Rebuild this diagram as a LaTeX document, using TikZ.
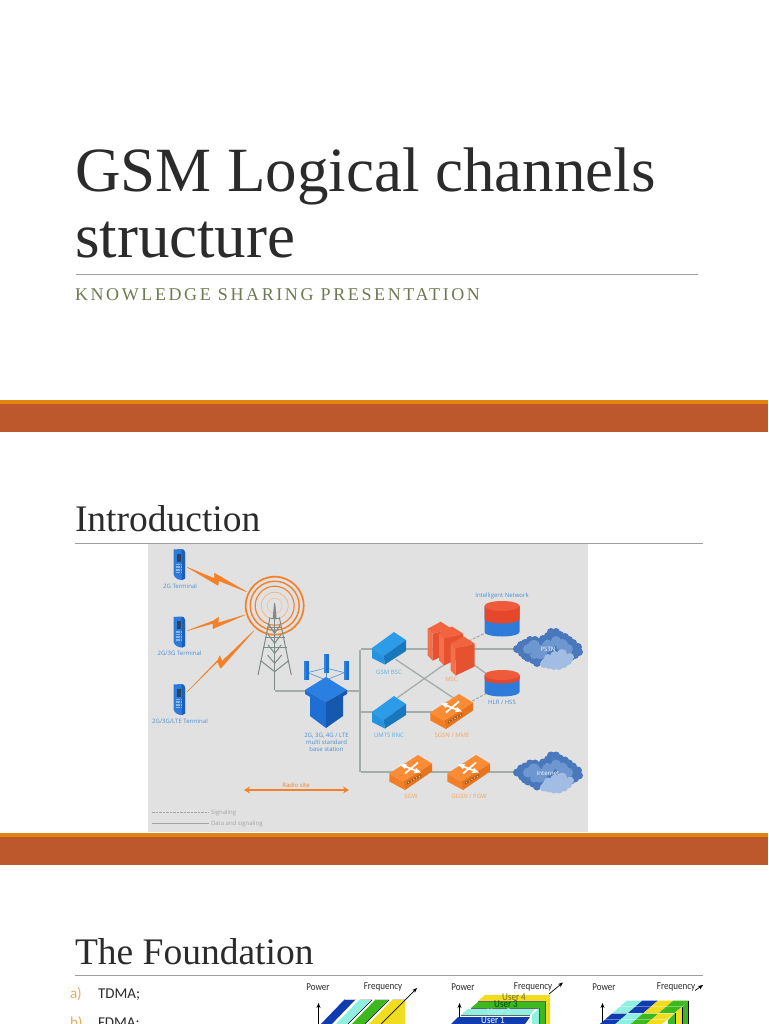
\documentclass[tikz,border=0pt]{standalone}
\usepackage{fontspec}
\setmainfont{Liberation Serif}
\newfontfamily\sansf{Open Sans}
\newfontfamily\listf{Carlito}
\newfontfamily\chartf[FakeStretch=0.86]{Carlito}
\newfontfamily\subf[LetterSpace=14.5]{Liberation Serif}
\definecolor{barO}{HTML}{E48312}
\definecolor{barB}{HTML}{BD582C}
\definecolor{panel}{HTML}{E1E1E1}
\definecolor{wire}{HTML}{A3AEAB}
\definecolor{ink}{HTML}{2B2B2B}
\definecolor{bolt}{HTML}{F58027}
\definecolor{lblB}{HTML}{4A8FD6}
\definecolor{lblC}{HTML}{55B4E8}
\definecolor{lblO}{HTML}{F4A460}
\definecolor{lblG}{HTML}{A0A6A4}
\definecolor{subc}{HTML}{6F7A52}
\definecolor{dbB}{HTML}{2F7BD9}
\definecolor{dbR}{HTML}{E4472A}
\definecolor{dbT}{HTML}{EE5A3A}
\definecolor{mscL}{HTML}{F4704A}
\definecolor{mscR}{HTML}{E65230}
\definecolor{mscT}{HTML}{F26440}
\definecolor{cloudA}{HTML}{4A78BD}
\definecolor{cloudB}{HTML}{6E96CF}
\definecolor{cloudC}{HTML}{A2BDE3}
\definecolor{bscT}{HTML}{2C9CE8}
\definecolor{bscL}{HTML}{2494E0}
\definecolor{bscR}{HTML}{1878BC}
\definecolor{rtrT}{HTML}{FB8C36}
\definecolor{rtrL}{HTML}{F47E26}
\definecolor{rtrR}{HTML}{E8751E}
\definecolor{twr}{HTML}{7E8A88}
\definecolor{cYel}{HTML}{F2DC1E}
\definecolor{cGrn}{HTML}{3DB81E}
\definecolor{cCyn}{HTML}{8FF0E0}
\definecolor{cBlu}{HTML}{0F3DB0}
\definecolor{phB}{HTML}{2B7BDB}
\definecolor{phD}{HTML}{1C5FB4}
\definecolor{phS}{HTML}{2A4468}
\definecolor{phK}{HTML}{8FB3DC}
\definecolor{bsT}{HTML}{2A80E2}
\definecolor{bsL}{HTML}{1E6FD4}
\definecolor{bsR}{HTML}{1558B0}
\definecolor{bsA}{HTML}{2F84DC}
\usetikzlibrary{arrows.meta}
\tikzset{
  t/.style={inner sep=0pt,outer sep=0pt},
  title/.style={t,anchor=base west,text=ink,font=\fontsize{63}{63}\selectfont},
  head/.style={t,anchor=base west,text=ink,font=\fontsize{37.5}{38}\selectfont},
  lab/.style={t,font=\sansf\fontsize{6}{7.2}\selectfont,align=center},
  anch/.style={t,minimum size=1pt},
  wireS/.style={draw=wire,line width=1.3pt},
  wireD/.style={draw=wire,line width=1.1pt,dash pattern=on 3pt off 1.5pt},
  axis/.style={draw=black,line width=.7pt,-{Stealth[length=5pt,width=4pt]}},
  chartlab/.style={t,text=ink,font=\chartf\fontsize{10.5}{12}\selectfont},
  userlab/.style={t,font=\chartf\fontsize{10.5}{11}\selectfont},
  pics/phone/.style={code={
    \fill[fill=phB] (-5.5,-15) -- (2,-15.5) to[out=0,in=90] (6,-12) -- (6,14) -- (3,15.5) to[out=180,in=-70] (-5.5,10) -- cycle;
    \fill[fill=phD] (2.5,-15.5) to[out=0,in=90] (6,-12) -- (6,14) -- (3,15.5) -- cycle;
    \fill[fill=phS] (-2.5,-11) rectangle (2,-3);
    \foreach \yy in {-1,1.7,4.4,7.1}\foreach \xx in {-3,-0.7,1.6}
      \fill[fill=phK] (\xx,\yy) rectangle +(1.5,1.6);
  }},
  pics/blockbox/.style={code={
    \fill[fill=bscT] (-17,0) -- (5,-16) -- (17,-8) -- (-5.5,8) -- cycle;
    \fill[fill=bscL] (-17,0) -- (-5.5,8) -- (-4,16.5) -- (-17,10) -- cycle;
    \fill[fill=bscR] (-5.5,8) -- (17,-8) -- (17,3) -- (-4,16.5) -- cycle;
  }},
  pics/router/.style={code={
    \fill[fill=rtrL] (-21.7,1) -- (-8,9) -- (-6,17.5) -- (-21.7,9) -- cycle;
    \fill[fill=rtrR] (-8,9) -- (21,-9) -- (21,-1) -- (-6,17.5) -- cycle;
    \fill[fill=rtrT] (-21.7,1) -- (7,-17.5) -- (21,-9) -- (-8,9) -- cycle;
    \draw[white,line width=1.7pt] (-8,-7) -- (7,-1) (-6,1) -- (7,-10);
    \fill[white] (-11,-8) -- (-4,-8.5) -- (-6,-3.5) -- cycle (10,0) -- (3,.5) -- (5,-4.5) -- cycle;
    \fill[fill=rtrR!75!black] (-4,9.5) -- (10,1.5) -- (10,4) -- (-4,12) -- cycle;
    \foreach \k in {0,...,4}\fill[fill=white!80!rtrT] (-2.5+\k*2.7,10-\k*1.55) circle[radius=.7pt];
  }},
  pics/dbcyl/.style={code={
    \fill[fill=dbB] (-17.5,0) -- (-17.5,#1) arc[start angle=180,end angle=360,x radius=17.5pt,y radius=4.5pt] -- (17.5,0) -- cycle;
    \fill[fill=dbR] (-17.5,0) -- (-17.5,#1-13) arc[start angle=180,end angle=360,x radius=17.5pt,y radius=4.5pt] -- (17.5,0) -- cycle;
    \fill[fill=dbT] (0,0) ellipse[x radius=17.5pt,y radius=5pt];
  }},
  pics/msctower/.style={code={
    \fill[fill=mscL] (0,7) -- (5,12) -- (5,39) -- (0,34) -- cycle;
    \fill[fill=mscR] (5,12) -- (24,7) -- (24,30) -- (5,39) -- cycle;
    \fill[fill=mscT] (0,7) -- (13,0) -- (24,7) -- (5,12) -- cycle;
  }},
  pics/cloudy/.style={code={
    \foreach \a/\b/\r in {-31/0/4,-27/-4/4,-23/-6/4,-18/-9/4,-13/-9/4,-9/-7/4,-5/-10/4,0/-13/4,3/-17/4,8/-17/4,12/-14/4,17/-12/4,21/-9/4,25/-6/4,30/-2/4,31/3/4,27/6/4,23/8/4,-26/4/4,-23/7/4,-20/9/4,-15/11/4,-11/14/4,-6/12/4,-2/12/4}
      \fill[fill=cloudA] (\a,\b) circle[radius=\r pt];
    \fill[fill=cloudA] (-27,-5) rectangle (29,8);
    \fill[fill=cloudA] (-20,-8) rectangle (24,12);
    \fill[fill=cloudA] (0,-14) rectangle (14,0);
    \foreach \a/\b/\r in {-20/0/5,-14/-3/6,-8/3/7,-14/6/4,0/-3/6,8/-8/5,14/-4/6,20/0/5}
      \fill[fill=cloudB] (\a,\b) circle[radius=\r pt];
    \foreach \a/\b/\r in {-4/15/4,1/16/4,6/17/4,11/17/4,16/15/4,20/12/4,22/8/4,14/5/5,7/7/5,0/9/4,-3/12/3,10/12/6,4/12/5,16/10/5}
      \fill[fill=cloudC] (\a,\b) circle[radius=\r pt];
  }}
}
\begin{document}
\begin{tikzpicture}[x=1pt,y=-1pt]
\path[use as bounding box] (0,0) rectangle (768,1024);
\clip (0,0) rectangle (768,1024);
\fill[white] (0,0) rectangle (768,1024);
% slide 1
\node[title] (t1) at (75,192) {GSM Logical channels};
\node[title] (t2) at (75,258) {structure};
\coordinate (r1a) at (76,274.5); \coordinate (r1b) at (698,274.5);
\draw[gray!75,line width=.8pt] (r1a) -- (r1b);
\node[t,anchor=base west,text=subc,font=\subf\fontsize{18}{20}\selectfont] (sub) at (75,300) {KNOWLEDGE SHARING PRESENTATION};
% bands
\fill[barO] (0,400) rectangle (768,404);
\fill[barB] (0,404) rectangle (768,432);
% slide 2
\node[head] (h2) at (75,531) {Introduction};
\fill[panel] (148,544) rectangle (588,832);
\coordinate (r2a) at (75,543); \coordinate (r2b) at (703,543);
\draw[gray!75,line width=.8pt] (r2a) -- (r2b);
% anchors
\node[anch] (tower) at (274.7,691) {};
\node[anch] (bs) at (326,691) {};
\node[anch] (busT) at (360,649) {};
\node[anch] (busM) at (360,691) {};
\node[anch] (busU) at (360,712) {};
\node[anch] (busB) at (360,772) {};
\node[anch] (gsm) at (389,649) {};
\node[anch] (umts) at (389,712) {};
\node[anch] (msc) at (452,649) {};
\node[anch] (sgsn) at (452,712) {};
\node[anch] (sgw) at (411,772) {};
\node[anch] (ggsn) at (469,772) {};
\node[anch] (pstn) at (548,649) {};
\node[anch] (inet) at (548,772) {};
\node[anch] (in) at (502,625) {};
\node[anch] (hlr) at (502,685) {};
\node[anch] (gsmd) at (395,659) {};
\node[anch] (umtsd) at (397,698) {};
\node[anch] (mscd) at (445,664) {};
\node[anch] (sgsnd) at (455,699) {};
% connectors
\draw[wireS] (tower) -- (bs);
\draw[wireS] (bs) -- (busM);
\draw[wireS] (gsm) -- (busT) -- (busB) -- (sgw);
\draw[wireS] (busU) -- (umts);
\draw[wireS] (umts) -- (sgsn);
\draw[wireS] (gsm) -- (msc);
\draw[wireS] (msc) -- (pstn);
\draw[wireS] (sgw) -- (ggsn);
\draw[wireS] (ggsn) -- (inet);
\draw[wireS] (gsmd) -- (sgsnd);
\draw[wireS] (umtsd) -- (mscd);
\draw[wireD] (msc) -- (in);
\draw[wireS] (msc) -- (hlr);
\draw[wireD] (sgsn) -- (hlr);
% bolts
\begin{scope}[shift={(148,540)},x=.3333pt,y=-.3333pt]
\filldraw[bolt,line width=.4pt,line join=round] (118,82) -- (200,116) -- (200,100) -- (295,155) -- (212,122) -- (210,136) -- cycle;
\filldraw[bolt,line width=.4pt,line join=round] (118,272) -- (195,243) -- (212,232) -- (210,249) -- (290,225) -- (195,266) -- (195,250) -- cycle;
\filldraw[bolt,line width=.4pt,line join=round] (117,456) -- (210,360) -- (215,347) -- (222,364) -- (318,272) -- (218,385) -- (208,365) -- cycle;
\end{scope}
% phones
\path (179,564.5) pic {phone};
\path (179,632) pic {phone};
\path (179,699.5) pic {phone};
\node[lab,text=lblB] (lp1) at (180,586) {2G Terminal};
\node[lab,text=lblB] (lp2) at (179.5,653.5) {2G/3G Terminal};
\node[lab,text=lblB] (lp3) at (180,721) {2G/3G/LTE Terminal};
% antenna circles
\foreach \r/\w/\c in {29/1.7/bolt,24.5/1.4/bolt,19.5/1.1/bolt,13.5/.5/bolt!70!white,7.5/.4/bolt!60!white}
  \draw[\c,line width=\w pt] (274.7,605.7) circle[radius=\r pt];
% mast
\begin{scope}[shift={(148,540)},x=.3333pt,y=-.3333pt,draw=twr,line width=1pt]
\draw[line width=1.2pt,fill=twr] (376,235) -- (380,190) -- (384,235) -- cycle;
\draw (368,235) -- (392,235);
\draw (366,232) -- (330,405) (394,232) -- (430,405);
\draw[line width=1.1pt] (380,235) -- (380,450);
\foreach \yy in {255,285,315,345}{
  \draw (380,\yy+25) -- (362-\yy/20+14,\yy);
  \draw (380,\yy+25) -- (398+\yy/20-14,\yy);
}
\draw (357,262) -- (403,262);
\draw (350,292) -- (410,292);
\draw (344,322) -- (416,322);
\draw (338,362) -- (380,395) -- (422,362);
\end{scope}
% base station
\foreach \xx in {306,326,346}{
  \draw[bsA!70!wire,line width=.6pt] (\xx,672) -- (326,680);
}
\draw[bsA!70!wire,line width=.6pt] (306,673) -- (326,668) -- (346,673);
\fill[bsA] (303.5,661) rectangle (308.5,680);
\fill[bsA] (323.5,654) rectangle (328.5,673);
\fill[bsA] (343.5,661) rectangle (348.5,680);
\fill[bsL] (306,661) rectangle (308.5,680);
\fill[bsL] (326,654) rectangle (328.5,673);
\fill[bsL] (346,661) rectangle (348.5,680);
\fill[bsL] (310,695) -- (326,704) -- (326,728) -- (310,716) -- cycle;
\fill[bsR] (326,704) -- (343,695) -- (343,716) -- (326,728) -- cycle;
\fill[bsT] (305,690) -- (326,677) -- (347,690) -- (326,702) -- cycle;
\fill[bsL] (305,690) -- (326,702) -- (326,706) -- (305,694) -- cycle;
\fill[bsR] (326,702) -- (347,690) -- (347,694) -- (326,706) -- cycle;
\node[lab,text=lblB] (lbs) at (326.5,742.5) {2G, 3G, 4G / LTE\\multi standard\\base station};
% boxes
\path (389,648) pic {blockbox};
\path (389,712) pic {blockbox};
\node[lab,text=lblC] (lg) at (389,672) {GSM BSC};
\node[lab,text=lblC] (lu) at (389,735) {UMTS RNC};
% MSC
\path (427.7,621.7) pic {msctower};
\path (439,626.5) pic {msctower};
\path (450.7,636.5) pic {msctower};
\node[lab,text=lblO] (lm) at (451.5,679) {MSC};
% DB
\path (502,606) pic {dbcyl=26};
\path (502,675) pic {dbcyl=17};
\node[lab,text=lblB] (li) at (502,596) {Intelligent Network};
\node[lab,text=lblB] (lh) at (502,702.5) {HLR / HSS};
% routers
\path (452,711.5) pic {router};
\path (411,772.5) pic {router};
\path (469,772.5) pic {router};
\node[lab,text=lblO] (ls) at (452,735) {SGSN / MME};
\node[lab,text=lblO] (lsg) at (411,796) {SGW};
\node[lab,text=lblO] (lgg) at (469,796) {GGSN / PGW};
% clouds
\path (548,649) pic {cloudy};
\path (548,772.5) pic {cloudy};
\node[lab,text=white] (lps) at (548,649) {PSTN};
\node[lab,text=white] (lin) at (548,773) {Internet};
% radio
\coordinate (ra) at (244,790); \coordinate (rb) at (349,790);
\draw[bolt,line width=1.9pt,{Stealth[length=6pt,width=7pt]}-{Stealth[length=6pt,width=7pt]}] (ra) -- (rb);
\node[lab,text=bolt] (lr) at (296,785) {Radio site};
% legend
\coordinate (l1a) at (152,812); \coordinate (l1b) at (209,812);
\coordinate (l2a) at (152,823); \coordinate (l2b) at (209,823);
\draw[lblG,line width=.9pt,dash pattern=on 2.5pt off 1pt] (l1a) -- (l1b);
\draw[lblG,line width=1pt] (l2a) -- (l2b);
\node[lab,anchor=west,text=lblG] (ls1) at (211,812.5) {Signaling};
\node[lab,anchor=west,text=lblG] (ls2) at (211,824) {Data and signaling};
% band 2
\fill[barO] (0,833) rectangle (768,837);
\fill[barB] (0,837) rectangle (768,865);
% slide 3
\node[head] (h3) at (75,964) {The Foundation};
\coordinate (r3a) at (75,975.5); \coordinate (r3b) at (703,975.5);
\draw[gray!75,line width=.8pt] (r3a) -- (r3b);
\node[t,anchor=base west,text=barO!70!white,font=\listf\fontsize{15}{18}\selectfont] (a) at (70,998) {a)};
\node[t,anchor=base west,text=ink,font=\listf\fontsize{15}{18}\selectfont] (ta) at (98,998) {TDMA;};
\node[t,anchor=base west,text=barO!70!white,font=\listf\fontsize{15}{18}\selectfont] (b) at (70,1027) {b)};
\node[t,anchor=base west,text=ink,font=\listf\fontsize{15}{18}\selectfont] (tb) at (98,1027) {FDMA;};
% chart 1
\node[chartlab] (p1) at (318,987) {Power};
\node[chartlab] (f1) at (383,987) {Frequency};
\coordinate (a1a) at (318.5,1030); \coordinate (a1b) at (318.5,1003);
\draw[axis] (a1a) -- (a1b);
\foreach \x/\c/\w in {345/cBlu/11,360/cCyn/12,376/cGrn/13,393/cYel/12}{
  \fill[\c] (\x,999) -- (\x+\w,999) -- (\x+\w-28,1028) -- (\x-28,1028) -- cycle;
  \fill[gray!35] (\x,999) rectangle (\x+\w,1000);
}
\fill[cYel] (405,999) -- (405,1024) -- (380,1024) -- cycle;
\draw[black,line width=.6pt] (372,1000) -- (348,1024) (389,1000) -- (365,1024);
\coordinate (a1c) at (381,1024); \coordinate (a1d) at (417,988);
\draw[axis] (a1c) -- (a1d);
% chart 2
\node[chartlab] (p2) at (463,987) {Power};
\node[chartlab] (f2) at (533,987) {Frequency};
\coordinate (a2a) at (459.5,1030); \coordinate (a2b) at (459.5,1003);
\draw[axis] (a2a) -- (a2b);
\coordinate (a2c) at (549,994); \coordinate (a2d) at (563,982.5);
\draw[axis] (a2c) -- (a2d);
\foreach \ya/\yb/\xl/\xr/\c in {995/1001/485/550/cYel,1002/1008/478/545/cGrn,1009/1015/468/535/cCyn,1017/1024/458/530/cBlu}{
  \fill[\c] (\xl,\ya) -- (\xr,\ya) -- (\xr-5,\yb) -- (\xl-7,\yb) -- cycle;
  \draw[black!60,line width=.4pt] (\xr-5,\yb) -- (\xl-7,\yb);
}
\fill[cYel] (545,1001) -- (550,995) -- (550,1024) -- (545,1024) -- cycle;
\fill[cGrn] (539,1008) -- (545,1001) -- (545,1024) -- (539,1024) -- cycle;
\fill[cCyn] (532,1015) -- (539,1008) -- (539,1024) -- (532,1024) -- cycle;
\draw[black!70,line width=.5pt] (545,1001) -- (545,1024) (539,1008) -- (539,1024);
\node[userlab,text=olive!80!black] (u4) at (514,997.5) {User 4};
\node[userlab,text=green!30!black] (u3) at (506,1004) {User 3};
\node[userlab,text=cCyn!70!white] (u2) at (499,1012) {User 2};
\node[userlab,text=white] (u1) at (493,1020) {User 1};
% chart 3
\node[chartlab] (p3) at (604,987) {Power};
\node[chartlab] (f3) at (676,987) {Frequency};
\coordinate (a3a) at (602.5,1030); \coordinate (a3b) at (602.5,1003);
\draw[axis] (a3a) -- (a3b);
\coordinate (a3c) at (695,990.5); \coordinate (a3d) at (703,985);
\draw[axis] (a3c) -- (a3d);
\foreach \row/\cs in {0/{cCyn,cBlu,cYel,cGrn},1/{cCyn,cBlu,cYel,cGrn},2/{cBlu,cCyn,cGrn,cYel},3/{cBlu,cCyn,cGrn,cYel}}{
  \foreach \c [count=\k from 0] in \cs {
    \pgfmathsetmacro{\xa}{627-\row*7.5+\k*15.5}
    \pgfmathsetmacro{\ya}{1000.5+\row*6.5}
    \fill[\c] (\xa,\ya) -- (\xa+15.5,\ya) -- (\xa+8.5,\ya+6) -- (\xa-7,\ya+6) -- cycle;
  }
}
\fill[cGrn] (682,1007) -- (688,1001) -- (688,1024) -- (682,1024) -- cycle;
\fill[cYel] (675,1013) -- (682,1007) -- (682,1024) -- (675,1024) -- cycle;
\fill[cGrn] (668,1020) -- (675,1013) -- (675,1024) -- (668,1024) -- cycle;
\draw[black,line width=.5pt] (682,1007) -- (682,1024) (675,1013) -- (675,1024) (688,1001) -- (688,1024);
\end{tikzpicture}
\end{document}
